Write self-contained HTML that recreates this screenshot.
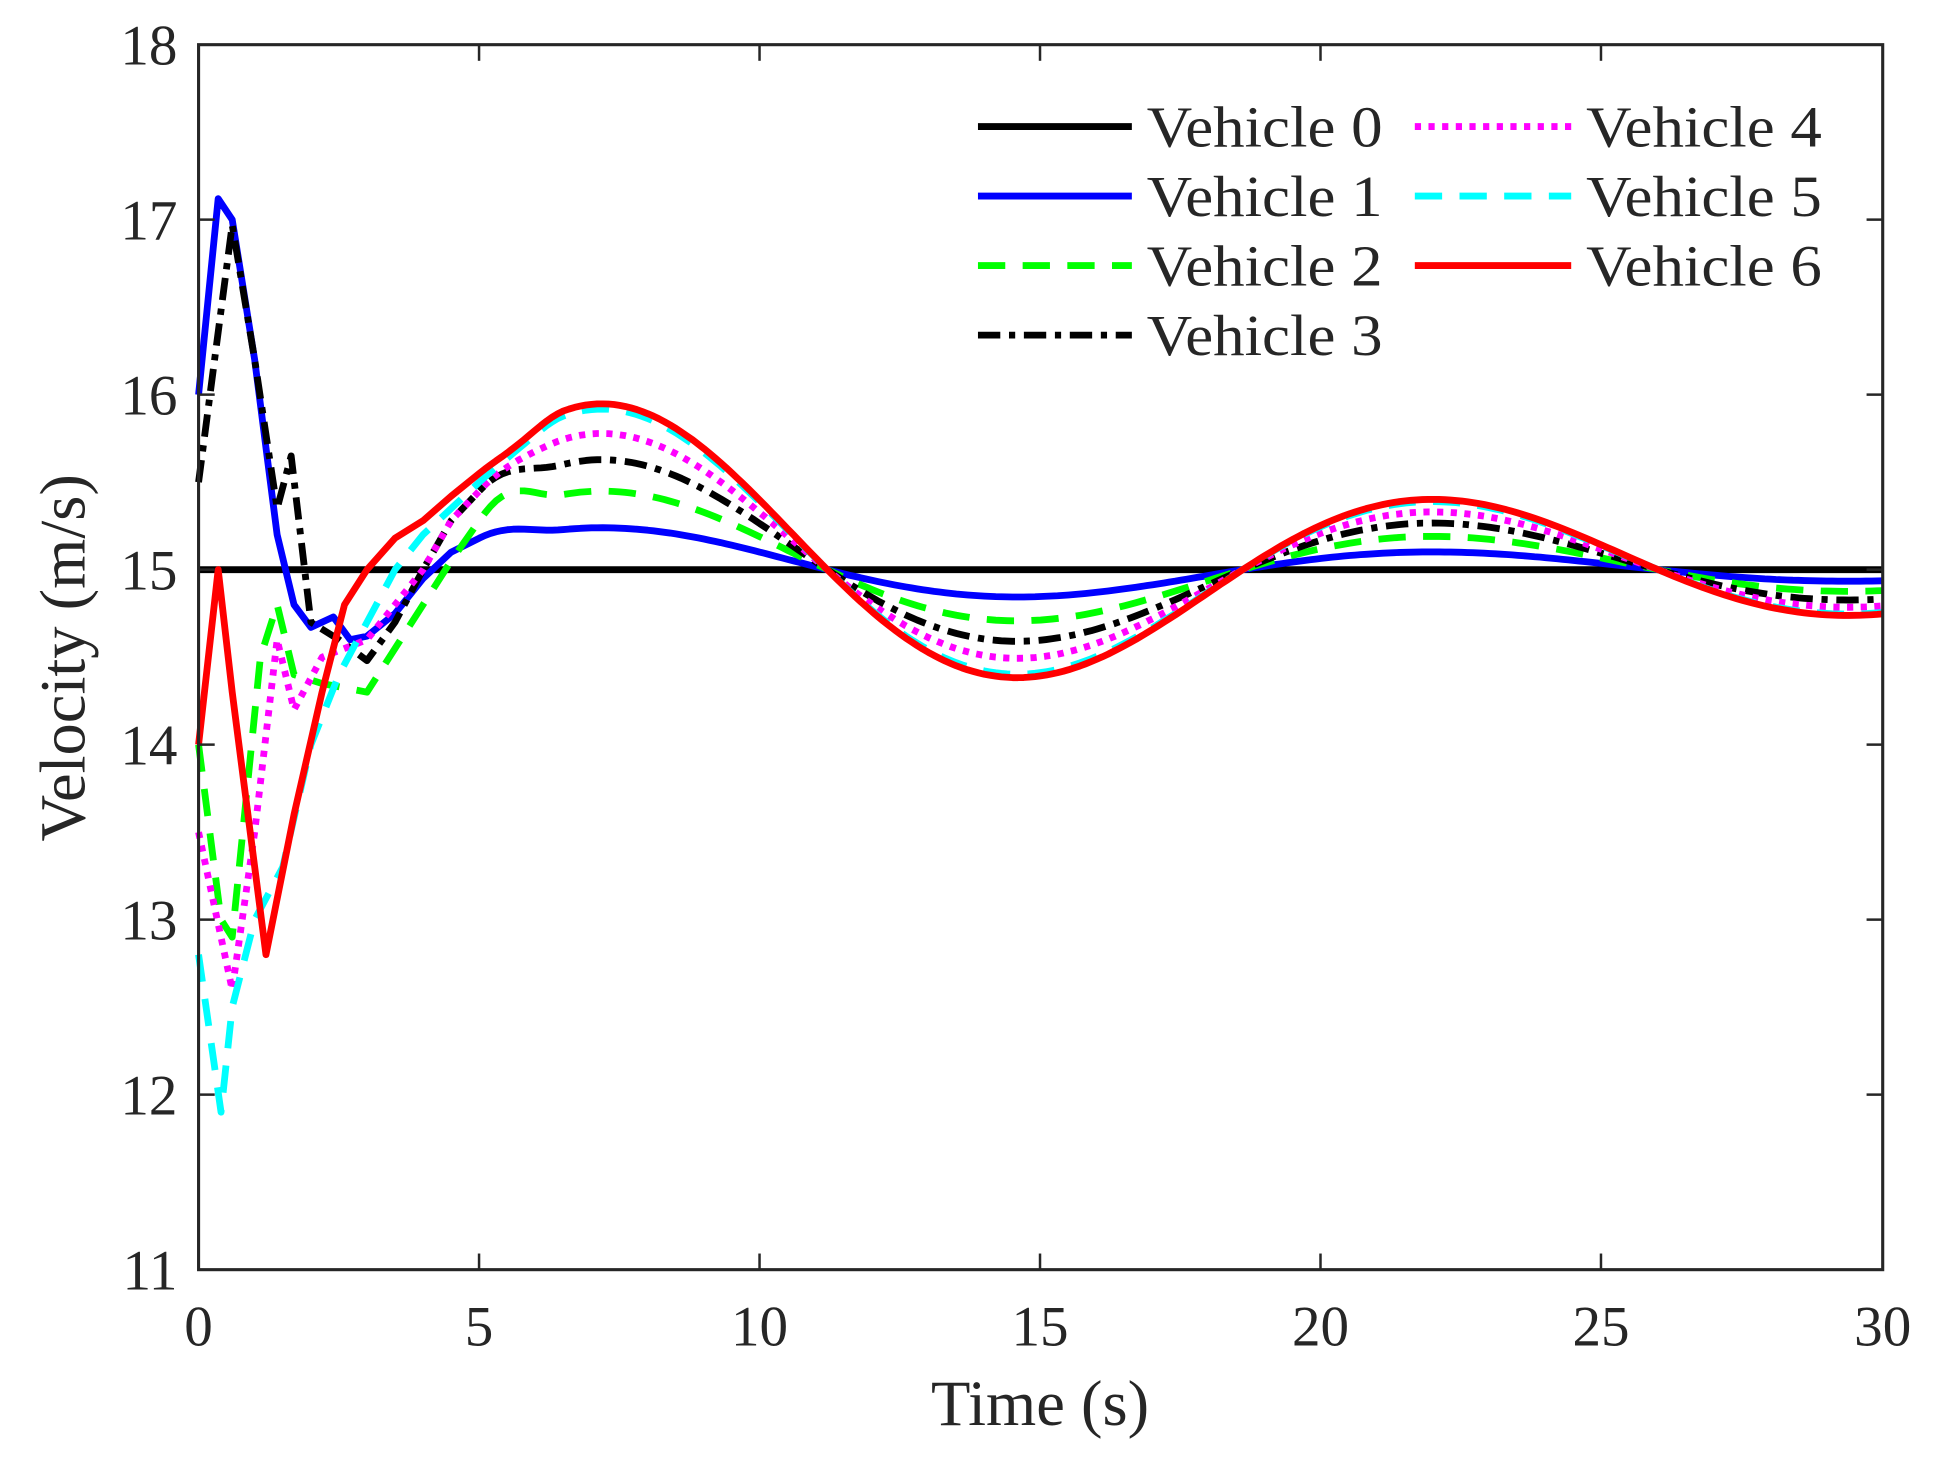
<!DOCTYPE html>
<html><head><meta charset="utf-8"><style>
html,body{margin:0;padding:0;background:#fff;}
svg{display:block;}
text{font-family:"Liberation Serif",serif;fill:#262626;}
</style></head><body>
<svg id="s" width="1946" height="1467" viewBox="0 0 1568 1182" preserveAspectRatio="none" xmlns="http://www.w3.org/2000/svg">
<rect width="1568" height="1182" fill="#fff"/>
<g id="curves" fill="none" stroke-width="5.5" stroke-linejoin="round"></g>
<rect x="160" y="36" width="1357" height="987" fill="none" stroke="#262626" stroke-width="2.5"/>
<g stroke="#262626" stroke-width="2">
<line x1="386" y1="1023" x2="386" y2="1010"/><line x1="612" y1="1023" x2="612" y2="1010"/><line x1="838" y1="1023" x2="838" y2="1010"/><line x1="1064" y1="1023" x2="1064" y2="1010"/><line x1="1290" y1="1023" x2="1290" y2="1010"/>
<line x1="386" y1="36" x2="386" y2="49"/><line x1="612" y1="36" x2="612" y2="49"/><line x1="838" y1="36" x2="838" y2="49"/><line x1="1064" y1="36" x2="1064" y2="49"/><line x1="1290" y1="36" x2="1290" y2="49"/>
<line x1="160" y1="177" x2="173" y2="177"/><line x1="160" y1="318" x2="173" y2="318"/><line x1="160" y1="459" x2="173" y2="459"/><line x1="160" y1="600" x2="173" y2="600"/><line x1="160" y1="741" x2="173" y2="741"/><line x1="160" y1="882" x2="173" y2="882"/>
<line x1="1517" y1="177" x2="1504" y2="177"/><line x1="1517" y1="318" x2="1504" y2="318"/><line x1="1517" y1="459" x2="1504" y2="459"/><line x1="1517" y1="600" x2="1504" y2="600"/><line x1="1517" y1="741" x2="1504" y2="741"/><line x1="1517" y1="882" x2="1504" y2="882"/>
</g>
<g font-size="46" text-anchor="end">
<text x="143" y="52">18</text><text x="143" y="193">17</text><text x="143" y="334">16</text><text x="143" y="475">15</text><text x="143" y="616">14</text><text x="143" y="757">13</text><text x="143" y="898">12</text><text x="143" y="1039">11</text>
</g>
<g font-size="46" text-anchor="middle">
<text x="160" y="1084">0</text><text x="386" y="1084">5</text><text x="612" y="1084">10</text><text x="838" y="1084">15</text><text x="1064" y="1084">20</text><text x="1290" y="1084">25</text><text x="1517" y="1084">30</text>
</g>
<text x="838" y="1148" font-size="52" text-anchor="middle">Time (s)</text>
<text transform="translate(68,530) rotate(-90)" font-size="52" text-anchor="middle">Velocity (m/s)</text>
<g stroke-width="5.5" fill="none">
<line x1="788" y1="102" x2="912" y2="102" stroke="#000"/>
<line x1="788" y1="158" x2="912" y2="158" stroke="#0000ff"/>
<line x1="788" y1="214" x2="912" y2="214" stroke="#00ff00" stroke-dasharray="22,14"/>
<line x1="788" y1="270" x2="912" y2="270" stroke="#000" stroke-dasharray="18,7,5,7"/>
<line x1="1140" y1="102" x2="1266" y2="102" stroke="#ff00ff" stroke-dasharray="5,6"/>
<line x1="1140" y1="158" x2="1266" y2="158" stroke="#00ffff" stroke-dasharray="22,14"/>
<line x1="1140" y1="214" x2="1266" y2="214" stroke="#ff0000"/>
</g>
<g font-size="47">
<text x="924" y="118" textLength="190" lengthAdjust="spacingAndGlyphs">Vehicle 0</text>
<text x="924" y="174" textLength="190" lengthAdjust="spacingAndGlyphs">Vehicle 1</text>
<text x="924" y="230" textLength="190" lengthAdjust="spacingAndGlyphs">Vehicle 2</text>
<text x="924" y="286" textLength="190" lengthAdjust="spacingAndGlyphs">Vehicle 3</text>
<text x="1278" y="118" textLength="190" lengthAdjust="spacingAndGlyphs">Vehicle 4</text>
<text x="1278" y="174" textLength="190" lengthAdjust="spacingAndGlyphs">Vehicle 5</text>
<text x="1278" y="230" textLength="190" lengthAdjust="spacingAndGlyphs">Vehicle 6</text>
</g>
</svg>
<script>
(function(){
var X=function(t){return 160+45.233*t;}, Y=function(v){return 36+(18-v)*141;};
var series=[
 {c:"#0000ff",d:"",A:0.24,p:[[0,16],[0.35,17.12],[0.6,17.0],[1.0,16.2],[1.4,15.2],[1.7,14.8],[2.0,14.67],[2.4,14.73],[2.7,14.6],[3.0,14.62],[3.5,14.75],[4,14.95],[4.5,15.1],[5,15.18]]},
 {c:"#00ff00",d:"22,14",A:0.45,p:[[0,14],[0.4,13.0],[0.6,12.9],[1.1,14.5],[1.4,14.8],[1.7,14.4],[2.2,14.35],[3,14.3],[4,14.8],[4.5,15.05],[5,15.28]]},
 {c:"#000000",d:"18,7,5,7",A:0.63,p:[[0,15.5],[0.6,16.97],[1.0,16.2],[1.4,15.35],[1.65,15.65],[2.0,14.7],[2.5,14.6],[3,14.48],[3.5,14.7],[4,15.0],[4.5,15.28],[5,15.45]]},
 {c:"#ff00ff",d:"5,6",A:0.78,p:[[0,13.5],[0.6,12.6],[1.0,13.5],[1.4,14.6],[1.7,14.2],[2.2,14.5],[3,14.6],[4,15.0],[4.5,15.28],[5,15.45]]},
 {c:"#00ffff",d:"22,14",A:0.92,p:[[0,12.8],[0.4,11.9],[0.6,12.5],[1.0,13.0],[1.5,13.3],[2.0,14.0],[2.5,14.4],[3,14.7],[3.5,15.0],[4,15.2],[4.5,15.35],[5,15.5]]},
 {c:"#ff0000",d:"",A:0.95,p:[[0,14],[0.35,15.0],[0.6,14.3],[1.2,12.8],[1.7,13.6],[2.2,14.3],[2.6,14.8],[3,15.0],[3.5,15.18],[4,15.28],[4.5,15.42],[5,15.55]]}
];
function form(A,t){return 15+A*Math.exp(-0.058*(t-7.3))*Math.cos(2*Math.PI*(t-7.5)/14.8);}
var g=document.getElementById("curves"),ns="http://www.w3.org/2000/svg";
var l0=document.createElementNS(ns,"line");
l0.setAttribute("x1",160);l0.setAttribute("x2",1517);l0.setAttribute("y1",Y(15));l0.setAttribute("y2",Y(15));l0.setAttribute("stroke","#000");
g.appendChild(l0);
series.forEach(function(s){
 var pts=[];
 s.p.forEach(function(q){pts.push([q[0],q[1]]);});
 var last=s.p[s.p.length-1], prev=s.p[s.p.length-2];
 var slope=(last[1]-prev[1])/(last[0]-prev[0]);
 for(var t=5.1;t<=30.001;t+=0.1){
  var f=form(s.A,t),v;
  if(t<6.5){var w=(t-5)/1.5;w=w*w*(3-2*w);var ext=last[1]+slope*(t-5)*(1-(t-5)/3);v=ext*(1-w)+f*w;}else v=f;
  pts.push([t,v]);
 }
 var d=pts.map(function(q,i){return (i?"L":"M")+X(q[0]).toFixed(1)+","+Y(q[1]).toFixed(1);}).join("");
 var p=document.createElementNS(ns,"path");
 p.setAttribute("d",d);p.setAttribute("stroke",s.c);
 if(s.d)p.setAttribute("stroke-dasharray",s.d);
 g.appendChild(p);
});
})();
</script>
</body></html>
